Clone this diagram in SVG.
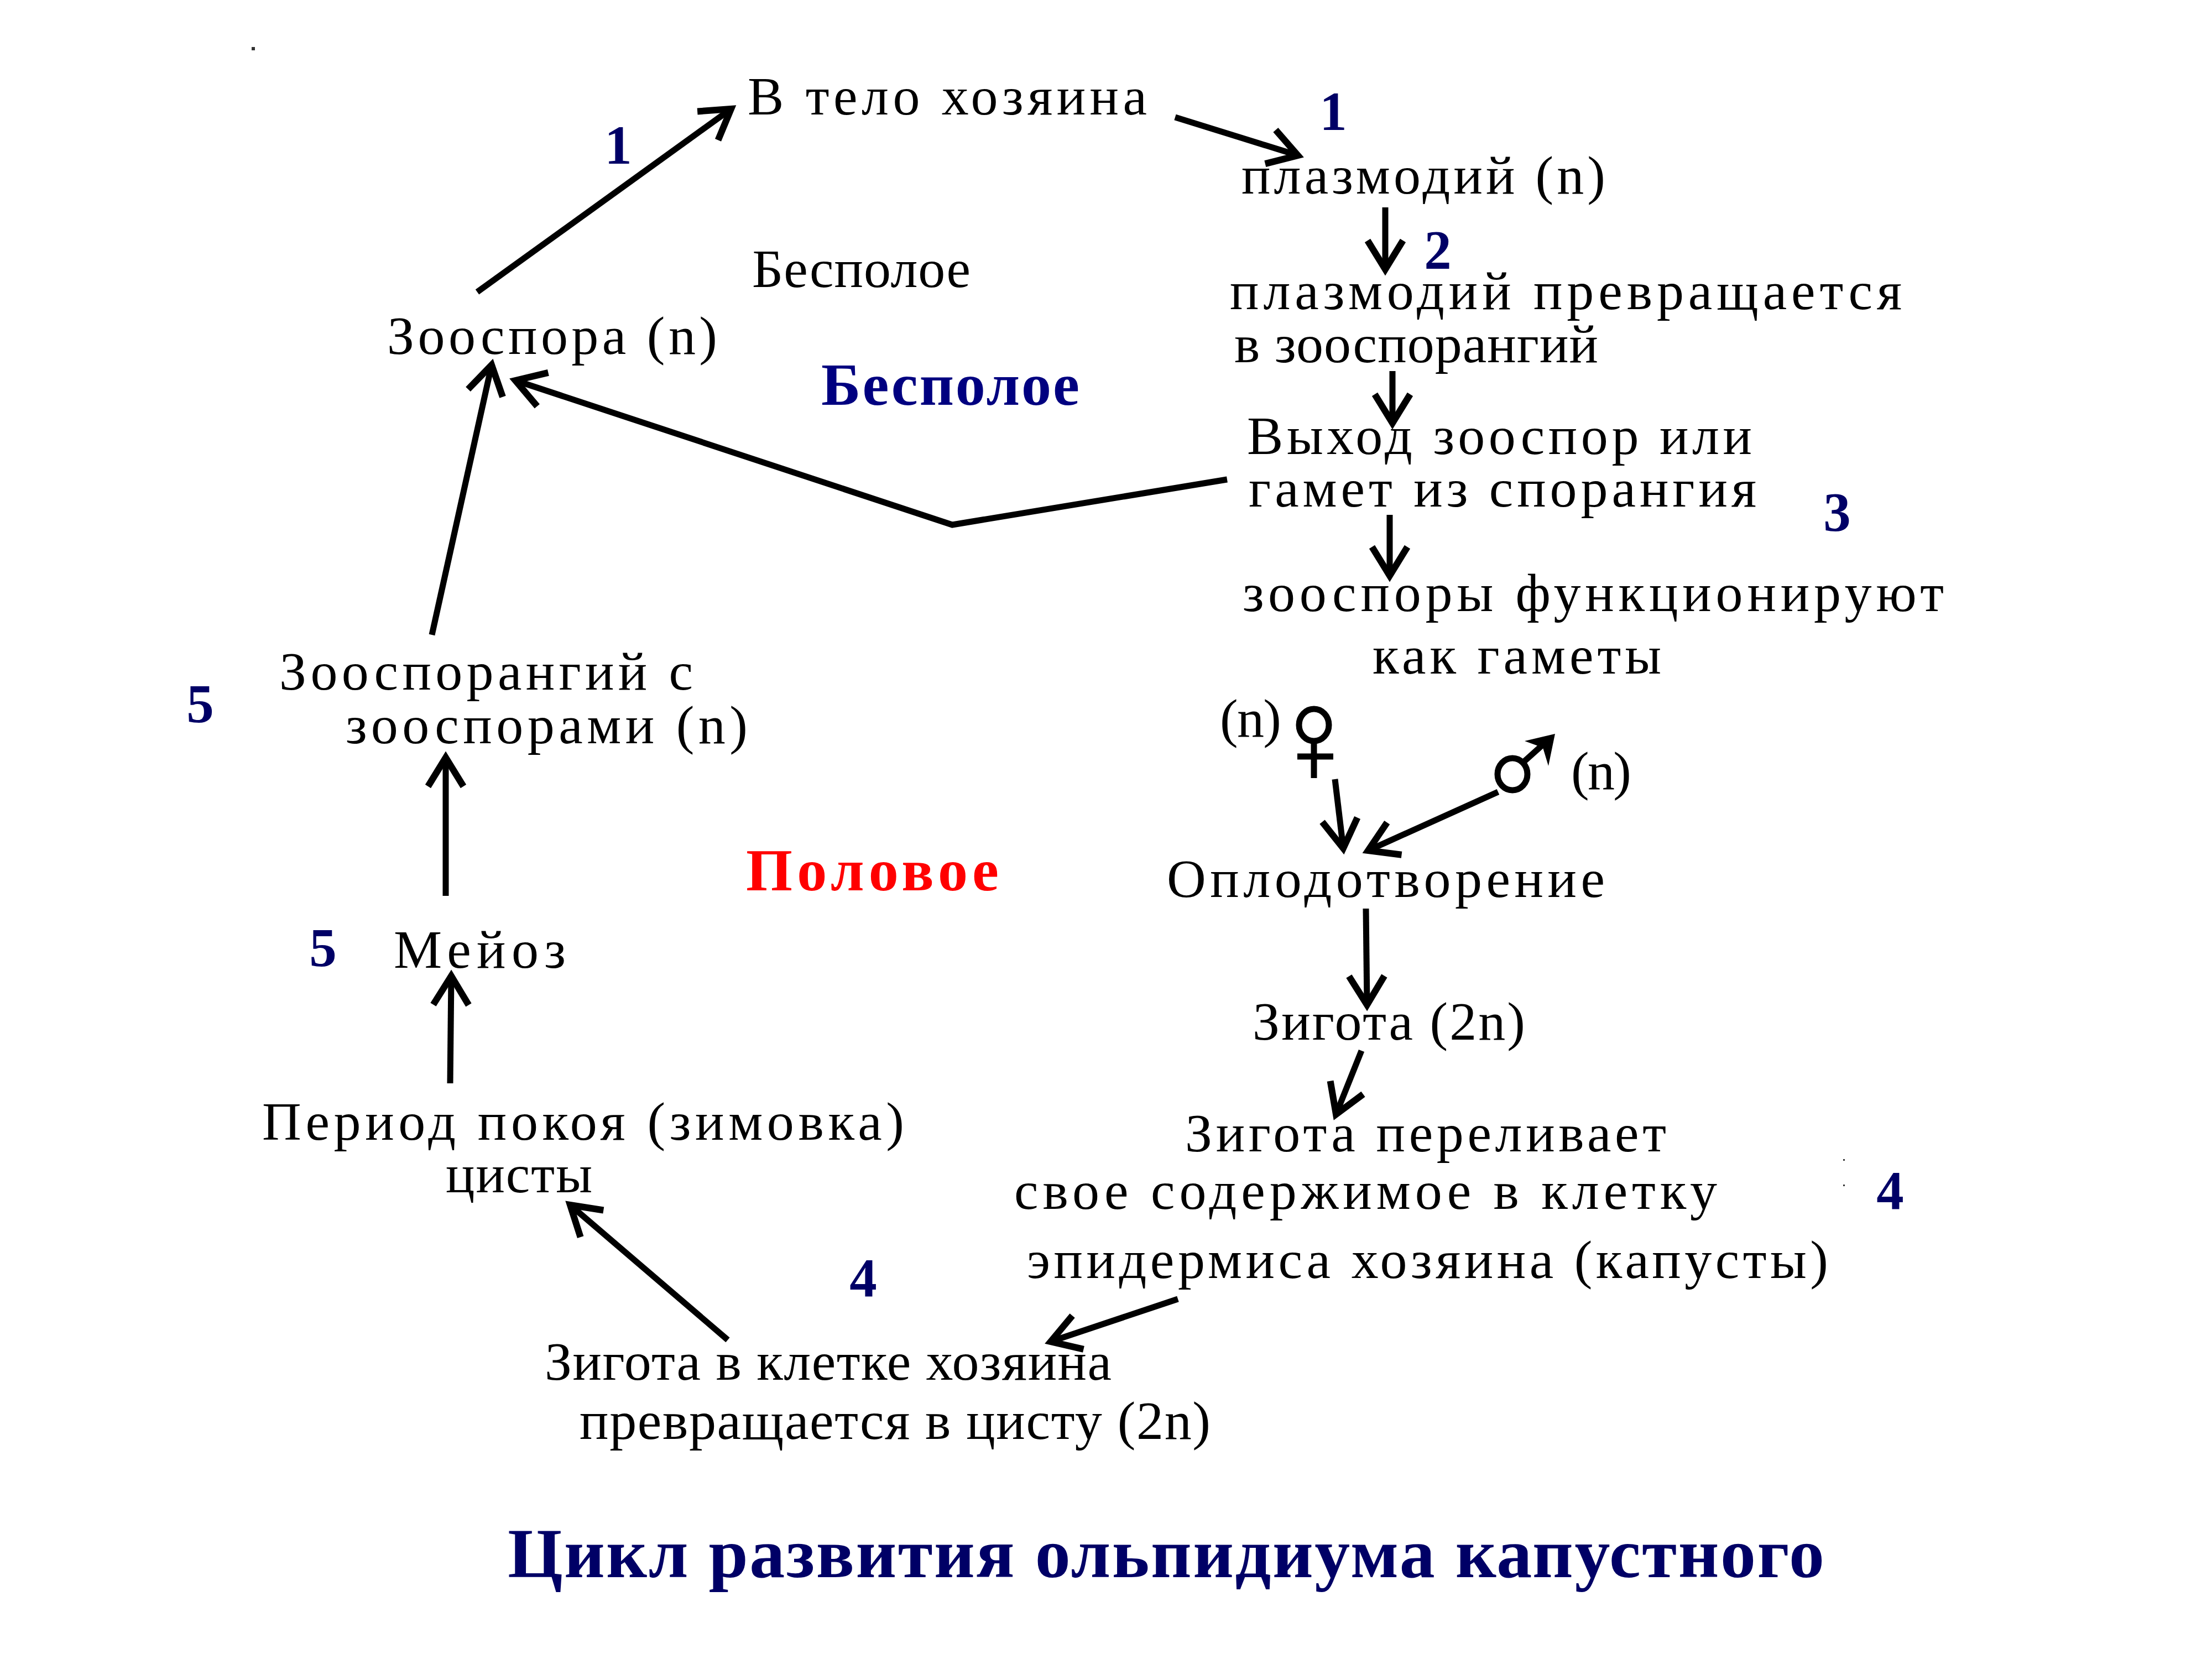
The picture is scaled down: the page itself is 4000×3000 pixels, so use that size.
<svg xmlns="http://www.w3.org/2000/svg" width="4000" height="3000" viewBox="0 0 4000 3000">
<style>
text{font-family:"Liberation Serif","Times New Roman",serif;fill:#000;font-size:98px}
.n{font-weight:bold;fill:#000066;font-size:99px;text-anchor:middle}
.b{font-weight:bold;fill:#000080;font-size:108px}
.r{font-weight:bold;fill:#ff0000;font-size:108px}
.t{font-weight:bold;fill:#000066;font-size:128px}
.c{fill:none;stroke:#000;stroke-width:11;stroke-linecap:butt;stroke-linejoin:miter;marker-end:url(#h)}
.s{fill:none;stroke:#000;stroke-width:11}
</style>
<defs>
<marker id="h" markerUnits="userSpaceOnUse" markerWidth="90" markerHeight="90" refX="72" refY="40" orient="auto" overflow="visible">
<path d="M20 8 L72 40 L20 72" fill="none" stroke="#000" stroke-width="12" stroke-linejoin="miter"/>
</marker>
</defs>
<rect width="4000" height="3000" fill="#fff"/>
<g id="connectors">
<line class="c" x1="863" y1="528" x2="1322" y2="197"/>
<line class="c" x1="2125" y1="212" x2="2347" y2="281"/>
<line class="c" x1="2505" y1="375" x2="2505" y2="487"/>
<line class="c" x1="2518" y1="671" x2="2518" y2="765"/>
<line class="c" x1="2513" y1="931" x2="2513" y2="1041"/>
<polyline class="c" points="2219,867 1722,949 932,688"/>
<line class="c" x1="781" y1="1148" x2="889" y2="660"/>
<line class="c" x1="806" y1="1620" x2="806" y2="1370"/>
<line class="c" x1="814" y1="1959" x2="816" y2="1765"/>
<line class="c" x1="2414" y1="1409" x2="2429" y2="1534"/>
<line class="c" x1="2709" y1="1432" x2="2474" y2="1538"/>
<line class="c" x1="2470" y1="1643" x2="2472" y2="1817"/>
<line class="c" x1="2462" y1="1900" x2="2416" y2="2015"/>
<line class="c" x1="2130" y1="2349" x2="1900" y2="2426"/>
<line class="c" x1="1316" y1="2423" x2="1031" y2="2179"/>
</g>
<g id="telo"><text x="1352" y="207" textLength="722" lengthAdjust="spacing">В тело хозяина</text></g>
<g id="plasmodium"><text x="2245" y="350" textLength="658">плазмодий (n)</text></g>
<g id="plasmodium2"><text x="2224" y="559" textLength="1215">плазмодий превращается</text><text x="2232" y="655" textLength="658">в зооспорангий</text></g>
<g id="vyhod"><text x="2255" y="821" textLength="913">Выход зооспор или</text><text x="2258" y="916" textLength="918">гамет из спорангия</text></g>
<g id="gamety"><text x="2247" y="1105" textLength="1268">зооспоры функционируют</text><text x="2482" y="1218" textLength="522">как гаметы</text></g>
<g id="female"><text x="2206" y="1332" textLength="111">(n)</text>
<ellipse class="s" cx="2376" cy="1311" rx="27" ry="29"/><path class="s" d="M2376 1342V1407M2346 1368H2411"/></g>
<g id="male"><text x="2841" y="1427" textLength="109">(n)</text>
<ellipse class="s" cx="2735" cy="1400" rx="27" ry="29"/><path class="s" d="M2755 1378L2795 1342"/><path d="M2812 1327L2757 1340L2790 1352L2800 1385Z" fill="#000"/></g>
<g id="fert"><text x="2110" y="1622" textLength="792">Оплодотворение</text></g>
<g id="zygote"><text x="2265" y="1880" textLength="493">Зигота (2n)</text></g>
<g id="zygote2"><text x="2143" y="2082" textLength="870">Зигота переливает</text><text x="1834" y="2186" textLength="1271">свое содержимое в клетку</text><text x="1857" y="2311" textLength="1449">эпидермиса хозяина (капусты)</text></g>
<g id="zygote3"><text x="985" y="2495" textLength="1025">Зигота в клетке хозяина</text><text x="1048" y="2602" textLength="1141">превращается в цисту (2n)</text></g>
<g id="rest"><text x="474" y="2061" textLength="1161">Период покоя (зимовка)</text><text x="806" y="2156" textLength="265">цисты</text></g>
<g id="meiosis"><text x="712" y="1750" textLength="311">Мейоз</text></g>
<g id="zoosporangium"><text x="505" y="1247" textLength="748">Зооспорангий с</text><text x="625" y="1344" textLength="727">зооспорами (n)</text></g>
<g id="zoospore"><text x="700" y="640" textLength="597">Зооспора (n)</text></g>
<g id="labels">
<text x="1360" y="519" textLength="395">Бесполое</text>
<text class="b" x="1485" y="732" textLength="467">Бесполое</text>
<text class="r" x="1349" y="1610" textLength="457">Половое</text>
<text class="t" x="918" y="2852" textLength="2381">Цикл развития ольпидиума капустного</text>
<text class="n" x="1118" y="296">1</text>
<text class="n" x="2411" y="235">1</text>
<text class="n" x="2600" y="485">2</text>
<text class="n" x="3322" y="959">3</text>
<text class="n" x="362" y="1306">5</text>
<text class="n" x="584" y="1747">5</text>
<text class="n" x="1561" y="2344">4</text>
<text class="n" x="3418" y="2186">4</text>
</g>
<g id="specks" fill="#333"><rect x="455" y="85" width="6" height="6"/><rect x="3333" y="2096" width="3" height="3"/><rect x="3333" y="2142" width="3" height="3"/></g>
</svg>
